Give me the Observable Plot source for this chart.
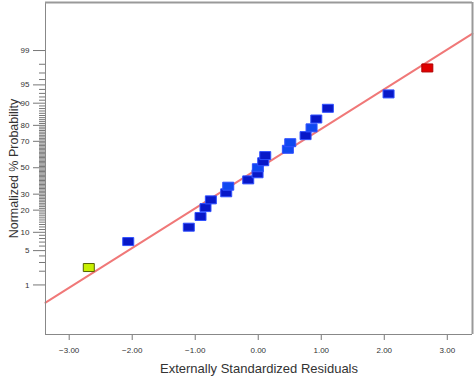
<!DOCTYPE html>
<html><head><meta charset="utf-8">
<script src="https://cdn.jsdelivr.net/npm/d3@7"></script>
<script src="https://cdn.jsdelivr.net/npm/@observablehq/plot@0.6"></script>
<style>body{margin:0;background:#fff;overflow:hidden}</style>
</head><body><div id="chart"></div>
<script>
// Externally standardized residuals (sorted) and their normal plotting positions (%)
const residuals = [-2.689, -2.063, -1.102, -0.916, -0.837, -0.752, -0.508, -0.476, -0.159, -0.011, -0.006,
                   0.079, 0.111, 0.470, 0.508, 0.751, 0.846, 0.921, 1.105, 2.068, 2.683];
const probabilities = [2.38, 7.14, 11.90, 16.67, 21.43, 26.19, 30.95, 35.71, 40.48, 45.24, 50.00,
                       54.76, 59.52, 64.29, 69.05, 73.81, 78.57, 83.33, 88.10, 92.86, 97.62];
const pointFill = ["#c8f000", "#0818c8", "#0818c8", "#0818c8", "#0818c8", "#0818c8", "#0818c8", "#1048f0",
                   "#0818c8", "#0818c8", "#1048f0", "#0818c8", "#0818c8", "#1048f0", "#1048f0", "#0818c8",
                   "#1048f0", "#0818c8", "#0818c8", "#0818c8", "#e00000"];
const pointStroke = ["#556000", "#3050ff", "#3050ff", "#3050ff", "#3050ff", "#3050ff", "#3050ff", "#3050ff",
                     "#3050ff", "#3050ff", "#3050ff", "#3050ff", "#3050ff", "#3050ff", "#3050ff", "#3050ff",
                     "#3050ff", "#3050ff", "#3050ff", "#3050ff", "#b00000"];
// Fitted normal line endpoints
const fitX = [-3.376, 3.40];
const fitP = [0.37, 99.61];
// Axis ticks
const xTicks = [-3, -2, -1, 0, 1, 2, 3];
const yMajorTicks = [1, 5, 10, 20, 30, 50, 70, 80, 90, 95, 99];
const yMinorTicks = d3.range(1, 100).filter(p => !yMajorTicks.includes(p));

// inverse normal CDF (Acklam) — used as the probability-scale transform
function probit(p) {
  const a = [-3.969683028665376e+01, 2.209460984245205e+02, -2.759285104469687e+02, 1.383577518672690e+02, -3.066479806614716e+01, 2.506628277459239e+00];
  const b = [-5.447609879822406e+01, 1.615858368580409e+02, -1.556989798598866e+02, 6.680131188771972e+01, -1.328068155288572e+01];
  const c = [-7.784894002430293e-03, -3.223964580411365e-01, -2.400758277161838e+00, -2.549732539343734e+00, 4.374664141464968e+00, 2.938163982698783e+00];
  const d = [7.784695709041462e-03, 3.224671290700398e-01, 2.445134137142996e+00, 3.754408661907416e+00];
  const pl = 0.02425, ph = 1 - pl;
  let q, r;
  if (p < pl) { q = Math.sqrt(-2 * Math.log(p));
    return (((((c[0]*q+c[1])*q+c[2])*q+c[3])*q+c[4])*q+c[5]) / ((((d[0]*q+d[1])*q+d[2])*q+d[3])*q+1); }
  if (p > ph) { q = Math.sqrt(-2 * Math.log(1 - p));
    return -(((((c[0]*q+c[1])*q+c[2])*q+c[3])*q+c[4])*q+c[5]) / ((((d[0]*q+d[1])*q+d[2])*q+d[3])*q+1); }
  q = p - 0.5; r = q * q;
  return (((((a[0]*r+a[1])*r+a[2])*r+a[3])*r+a[4])*r+a[5])*q / (((((b[0]*r+b[1])*r+b[2])*r+b[3])*r+b[4])*r+1);
}
const z = p => probit(p / 100);

const points = residuals.map((r, i) => ({r, z: z(probabilities[i]), fill: pointFill[i], stroke: pointStroke[i]}));
const fitLine = fitX.map((x, i) => ({x, z: z(fitP[i])}));
const majorZ = yMajorTicks.map(z);
const majorLabel = new Map(majorZ.map((v, i) => [v, String(yMajorTicks[i])]));
const minorZ = yMinorTicks.map(z);

const rectSymbol = {draw(ctx) { ctx.rect(-5.5, -4, 11, 8); }};

const chart = Plot.plot({
  width: 474, height: 378,
  marginLeft: 45, marginRight: 2, marginTop: 2, marginBottom: 44,
  style: {fontFamily: "'Liberation Sans', Arial, sans-serif", background: "#fff", color: "#333"},
  x: {domain: [-3.376, 3.40]},
  y: {domain: [-3.31, 3.28]},
  color: {type: "identity"},
  marks: [
    Plot.axisY(minorZ, {tickSize: 6, tickFormat: () => "", stroke: "#777", label: null}),
    Plot.axisY(majorZ, {tickSize: 12, tickPadding: 4, tickFormat: v => majorLabel.get(v), fontSize: 8, stroke: "#777", label: null}),
    Plot.axisX(xTicks, {tickSize: 6, tickPadding: 7, tickFormat: d3.format(".2f"), fontSize: 8, stroke: "#777", label: null}),
    Plot.line(fitLine, {x: "x", y: "z", stroke: "#f07878", strokeWidth: 2}),
    Plot.dot(points, {x: "r", y: "z", symbol: rectSymbol, fill: "fill", stroke: "stroke", strokeWidth: 1}),
    Plot.ruleX([-3.376], {stroke: "#888", strokeWidth: 1}),
    Plot.ruleY([-3.31], {stroke: "#888", strokeWidth: 1}),
    Plot.ruleX([3.40], {stroke: "#999", strokeWidth: 2}),
    Plot.ruleY([3.28], {stroke: "#999", strokeWidth: 2}),
    Plot.text(["Externally Standardized Residuals"], {frameAnchor: "bottom", dy: 38, fontSize: 13, fill: "#333"}),
    Plot.text(["Normalized % Probability"], {frameAnchor: "left", dx: -32, rotate: -90, textAnchor: "middle", fontSize: 12.5, fill: "#333"})
  ]
});
document.getElementById("chart").appendChild(chart);
</script>
</body></html>
